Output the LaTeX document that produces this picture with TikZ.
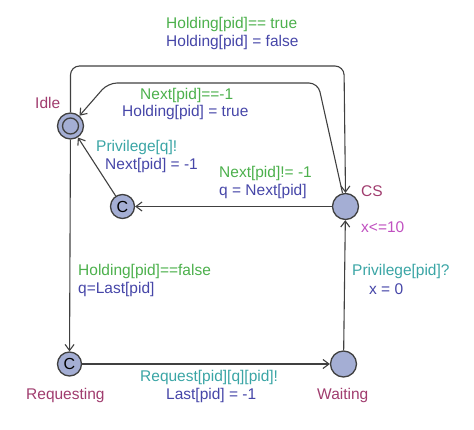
\documentclass[tikz,border=0pt]{standalone}
\usepackage{fontspec}
\setmainfont{Liberation Sans}
\usetikzlibrary{arrows.meta}
\definecolor{locname}{HTML}{A03C6E}
\definecolor{inv}{HTML}{C050C0}
\definecolor{guard}{HTML}{4CB04C}
\definecolor{sync}{HTML}{3AA5A5}
\definecolor{assign}{HTML}{4646A8}
\definecolor{locfill}{HTML}{A4AED4}
\definecolor{edge}{HTML}{404040}

\begin{document}
\begin{tikzpicture}[x=1pt,y=-1pt,loc/.style={circle,draw=edge,fill=locfill,line width=1.3pt,minimum size=26pt,inner sep=0pt,font=\fontsize{16}{18}\selectfont},com/.style={loc,minimum size=24pt},arr/.style={-{Straight Barb[length=6pt,width=9pt]},line width=1.1pt,draw=edge,rounded corners=9pt},lbl/.style={anchor=west,inner sep=0pt,font=\fontsize{15.5}{18}\selectfont}]
\useasboundingbox (0,0) rectangle (474,429);
\node[loc] (idle) at (70.5,126) {};
\draw[draw=edge,line width=1.3pt] (idle.center) circle (8pt);
\node[com] (com) at (122.5,206.5) {C};
\node[loc] (cs) at (345.5,206.5) {};
\node[com] (req) at (69.5,364) {C};
\node[loc] (wait) at (343.5,364) {};
\coordinate (otr) at (344,66);
\coordinate (inr) at (318,83);
\coordinate (inl) at (108,83);
\node[lbl,text=locname] (idlename) at (35,103) {Idle};
\node[lbl,text=locname] (csname) at (361,191) {CS};
\node[lbl,text=inv] (csinv) at (361,227) {x<=10};
\node[lbl,text=locname] (reqname) at (26,395) {Requesting};
\node[lbl,text=locname] (waitname) at (317,395) {Waiting};
\draw[arr] (idle) -- (req);
\draw[arr] (req) -- (wait);
\draw[arr] (wait) -- (cs);
\draw[arr] (cs) -- (com);
\draw[arr] (com) -- (idle);
\draw[arr] (idle.north) |- (otr) -- (cs.north);
\draw[arr] (cs) -- (inr) -- (inl) -- (idle);
\node[lbl,text=guard] (g1) at (166,24) {Holding[pid]== true};
\node[lbl,text=assign] (a1) at (166,42) {Holding[pid] = false};
\node[lbl,text=guard] (g2) at (140,95) {Next[pid]==-1};
\node[lbl,text=assign] (a2) at (122,112) {Holding[pid] = true};
\node[lbl,text=sync] (s3) at (96,147) {Privilege[q]!};
\node[lbl,text=assign] (a3) at (105,165) {Next[pid] = -1};
\node[lbl,text=guard] (g4) at (219,173) {Next[pid]!= -1};
\node[lbl,text=assign] (a4) at (219,191) {q = Next[pid]};
\node[lbl,text=guard] (g5) at (78,271) {Holding[pid]==false};
\node[lbl,text=assign] (a5) at (78,289) {q=Last[pid]};
\node[lbl,text=sync] (s6) at (352,271) {Privilege[pid]?};
\node[lbl,text=assign] (a6) at (369,289) {x = 0};
\node[lbl,text=sync] (s7) at (140,377) {Request[pid][q][pid]!};
\node[lbl,text=assign] (a7) at (166,395) {Last[pid] = -1};
\end{tikzpicture}
\end{document}
